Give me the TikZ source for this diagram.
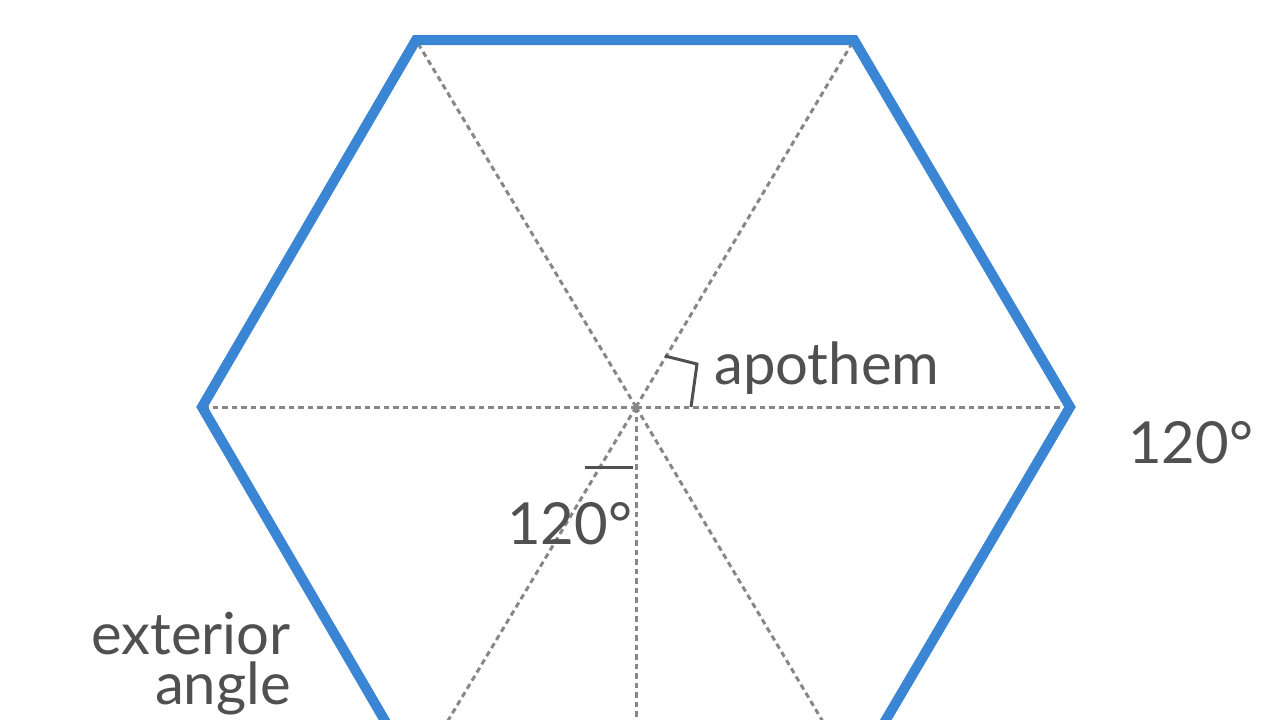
\documentclass[tikz,border=0pt]{standalone}
\usepackage{fontspec}
\setmainfont{Lato}
\definecolor{hexblue}{RGB}{58,134,212}
\definecolor{dashgray}{RGB}{135,135,135}
\definecolor{txtgray}{RGB}{80,80,80}
\begin{document}
\begin{tikzpicture}[x=1pt,y=-1pt,
  hexline/.style={draw=hexblue,line width=10pt,line join=miter},
  guide/.style={draw=dashgray,line width=3pt,dash pattern=on 5.5pt off 4pt},
  tick/.style={draw=txtgray,line width=3pt},
  lbl/.style={text=txtgray,inner sep=0pt,font=\fontsize{58}{50}\selectfont}]
\useasboundingbox (0,0) rectangle (1280,720);
\clip (0,0) rectangle (1280,720);
\fill[white] (0,0) rectangle (1280,720);
\coordinate (A) at (416,40);
\coordinate (B) at (854,40);
\coordinate (C) at (1070,407);
\coordinate (D) at (854,774);
\coordinate (E) at (416,774);
\coordinate (F) at (202,407);
\coordinate (O) at (636,407);
\coordinate (M) at (636,774);
\foreach \v in {A,B,C,D,E,F,M} \draw[guide] (O) -- (\v);
\draw[hexline] (A) -- (B) -- (C) -- (D) -- (E) -- (F) -- cycle;
\coordinate (r1) at (665,356);
\coordinate (r2) at (697,364);
\coordinate (r3) at (691,407);
\draw[tick] (r1) -- (r2) -- (r3);
\coordinate (h1) at (585,467);
\coordinate (h2) at (633,467);
\draw[tick] (h1) -- (h2);
\node[lbl,anchor=base west] (apo) at (714,384) {apothem};
\node[lbl,anchor=base west] (ang1) at (1128,463) {120°};
\node[lbl,anchor=base west] (ang2) at (507,544) {120°};
\node[lbl,anchor=base east,align=right] (ext) at (291,704) {exterior\\angle};
\end{tikzpicture}
\end{document}
